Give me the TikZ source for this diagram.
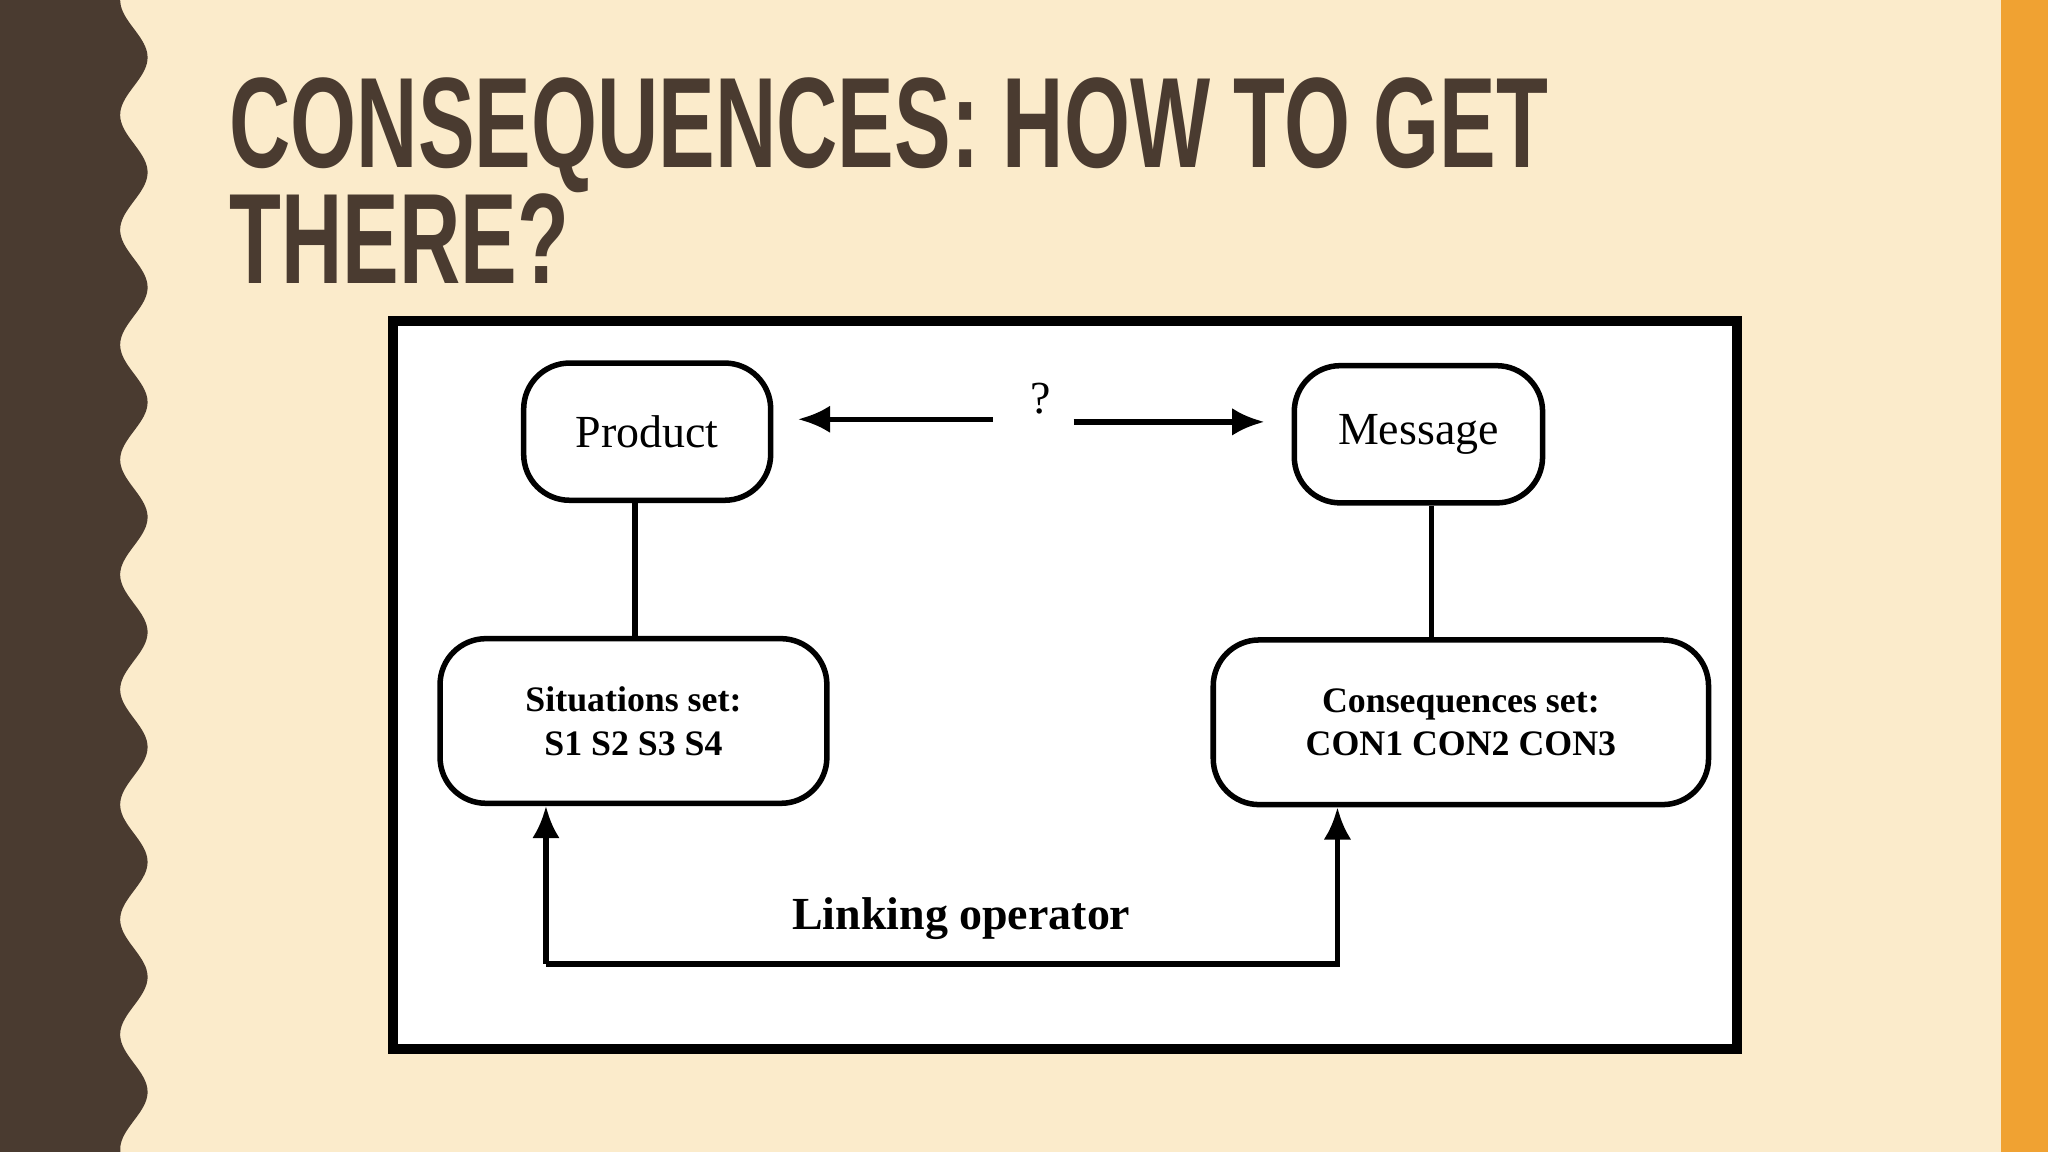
\documentclass[tikz,border=0pt]{standalone}
\usepackage{fontspec}
\setmainfont{Liberation Serif}
\newfontfamily\titlefont{Liberation Sans}
\usetikzlibrary{arrows.meta}
\definecolor{bg}{HTML}{FBEBCB}
\definecolor{brn}{HTML}{4A3B30}
\definecolor{org}{HTML}{F0A232}
\begin{document}
\begin{tikzpicture}[x=0.01cm,y=-0.01cm,
  box/.style={draw,line width=1.2pt,rounded corners=10pt},
  arr/.style={line width=1.2pt,-{Latex[length=7pt,width=6pt]}},
  lab/.style={font=\fontsize{10pt}{12pt}\selectfont},
  blab/.style={font=\bfseries\fontsize{7.8pt}{9.5pt}\selectfont,align=center}]
\useasboundingbox (0,0) rectangle (1568,882);
\fill[bg] (0,0) rectangle (1568,882);
\fill[org] (1532,0) rectangle (1568,882);
\fill[brn] (0,0) -- plot[domain=0:882,samples=200,smooth] ({102.5-10.5*cos(4.0909*\x)},\x) -- (0,882) -- cycle;
\node[anchor=base west,inner sep=0,text=brn,font=\titlefont\bfseries\fontsize{28pt}{30pt}\selectfont] (t1) at (175,128) {\scalebox{0.66}[1]{CONSEQUENCES: HOW TO GET}};
\node[anchor=base west,inner sep=0,text=brn,font=\titlefont\bfseries\fontsize{28pt}{30pt}\selectfont] (t2) at (175,217) {\scalebox{0.66}[1]{THERE?}};
\draw[fill=white,line width=2.2pt] (301,246) rectangle (1330,803);
\node[box,minimum width=1.89cm,minimum height=1.05cm,lab] (p) at (495.5,330.5) {Product};
\node[box,minimum width=1.9cm,minimum height=1.05cm,lab] (m) at (1086,332.5) {Message};
\node[box,minimum width=2.96cm,minimum height=1.26cm,blab] (s) at (485,552) {Situations set:\\S1 S2 S3 S4};
\node[box,minimum width=3.79cm,minimum height=1.26cm,blab] (c) at (1118.5,553) {Consequences set:\\CON1 CON2 CON3};
\draw[line width=1.2pt] (p.south -| 486,0) -- (s.north -| 486,0);
\draw[line width=1.2pt] (m.south -| 1096,0) -- (c.north -| 1096,0);
\node[lab] (q) at (797,305) {?};
\coordinate (la) at (760,321); \coordinate (ra) at (822,323);
\draw[arr] (la) -- (611,321);
\draw[arr] (ra) -- (968,323);
\coordinate (b1) at (418,738); \coordinate (b2) at (1024,738);
\draw[arr] (b1) -- (s.south -| b1);
\draw[arr] (b1) -- (b2) -- (c.south -| b2);
\node[font=\bfseries\fontsize{10pt}{12pt}\selectfont] (lo) at (736,703) {Linking operator};
\end{tikzpicture}
\end{document}
